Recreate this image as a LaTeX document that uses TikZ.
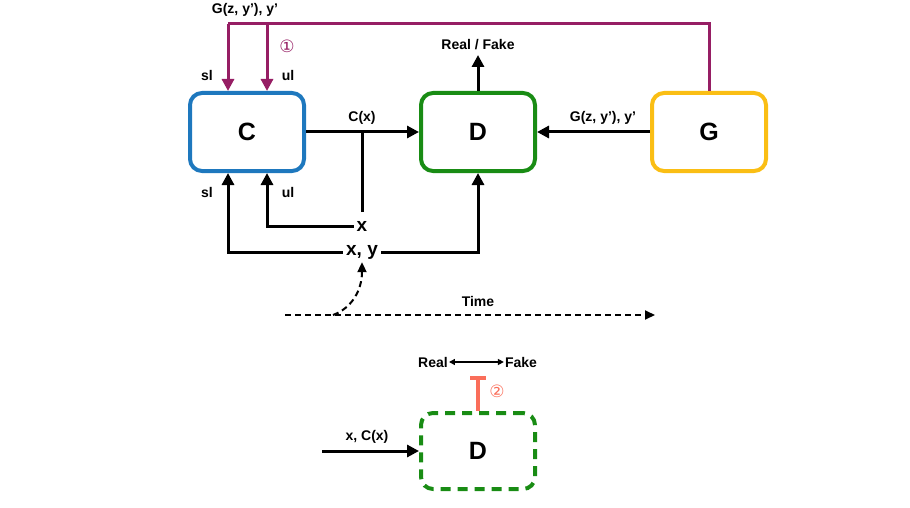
\documentclass[tikz,border=0pt]{standalone}
\usepackage{fontspec}
\setmainfont{Liberation Sans}
\newfontfamily\dejavu{DejaVu Sans}
\usetikzlibrary{arrows.meta}
\definecolor{cblue}{RGB}{30,120,190}
\definecolor{cgreen}{RGB}{25,140,20}
\definecolor{corange}{RGB}{250,190,20}
\definecolor{cpurple}{RGB}{150,30,100}
\definecolor{cred}{RGB}{250,110,90}
\begin{document}
\begin{tikzpicture}[x=1pt,y=-1pt,
  box/.style={draw,line width=4pt,rounded corners=12pt,minimum width=114pt,minimum height=78pt,font=\bfseries\fontsize{25}{30}\selectfont},
  lbl/.style={font=\bfseries\fontsize{14}{16}\selectfont,inner sep=1pt},
  big/.style={font=\bfseries\fontsize{19}{22}\selectfont,inner sep=3pt},
  arr/.style={line width=3pt,-{Triangle[length=12pt,width=12pt]}},
  ln/.style={line width=3pt}]
\useasboundingbox (0,0) rectangle (910,508);
\node[box,draw=cblue] (C) at (247,132) {C};
\node[box,draw=cgreen] (D) at (478,132) {D};
\node[box,draw=corange] (G) at (709,132) {G};
\node[box,draw=cgreen,dashed,dash pattern=on 10pt off 7pt,minimum height=76pt] (D2) at (478,451) {D};
% purple feedback
\coordinate (pt) at (709,24);
\coordinate (pl) at (228,24);
\coordinate (pb) at (267,24);
\draw[ln,cpurple] (G.north) -- (pt) -- (pl);
\draw[arr,cpurple] (pl) -- (228,91);
\draw[arr,cpurple] (pb) -- (267,91);
\node[lbl] (gl) at (245,10) {G(z, y’), y’};
\node[cpurple,font=\dejavu\fontsize{17}{19}\selectfont] (n1) at (287,46) {①};
\node[lbl] (s1) at (207,75) {sl};
\node[lbl] (u1) at (288,75) {ul};
\node[lbl] (s2) at (207,192) {sl};
\node[lbl] (u2) at (288,192) {ul};
% C -> D
\draw[arr] (C.east) -- (D.west);
\node[lbl] (cx) at (362,118) {C(x)};
\node[big] (x) at (362,226) {x};
\node[big] (xy) at (362,252) {x, y};
\draw[ln] (362,212) -- (362,131);
\draw[arr] (x.west) -| (267,173);
\draw[arr] (xy.west) -| (228,173);
\draw[arr] (xy.east) -| (D.south);
% D up
\node[lbl] (rf) at (478,45) {Real / Fake};
\draw[arr] (D.north) -- (478,55);
% G -> D
\draw[arr] (G.west) -- (D.east);
\node[lbl] (gd) at (603,118) {G(z, y’), y’};
% time
\coordinate (t0) at (285,315);
\coordinate (t1) at (655,315);
\draw[line width=2pt,dashed,dash pattern=on 6pt off 4pt,-{Triangle[length=10pt,width=9pt]}] (t0) -- (t1);
\node[lbl] (time) at (478,301) {Time};
\draw[line width=2pt,dashed,dash pattern=on 6pt off 4pt,-{Triangle[length=10pt,width=9pt]}] (333,315) .. controls (352,308) and (362,290) .. (xy.south);
% bottom
\node[lbl] (real) at (433,362) {Real};
\node[lbl] (fake) at (521,362) {Fake};
\draw[line width=1.5pt,{Triangle[length=6pt,width=6pt]}-{Triangle[length=6pt,width=6pt]}] (real.east) -- (fake.west);
\draw[line width=4pt,cred] (D2.north) -- (478,378);
\draw[line width=4pt,cred] (470,378) -- (486,378);
\node[cred,font=\dejavu\fontsize{17}{19}\selectfont] (n2) at (497,391) {②};
\coordinate (xin) at (322,451);
\draw[arr] (xin) -- (D2.west);
\node[lbl] (xc) at (367,437) {x, C(x)};
\end{tikzpicture}
\end{document}
